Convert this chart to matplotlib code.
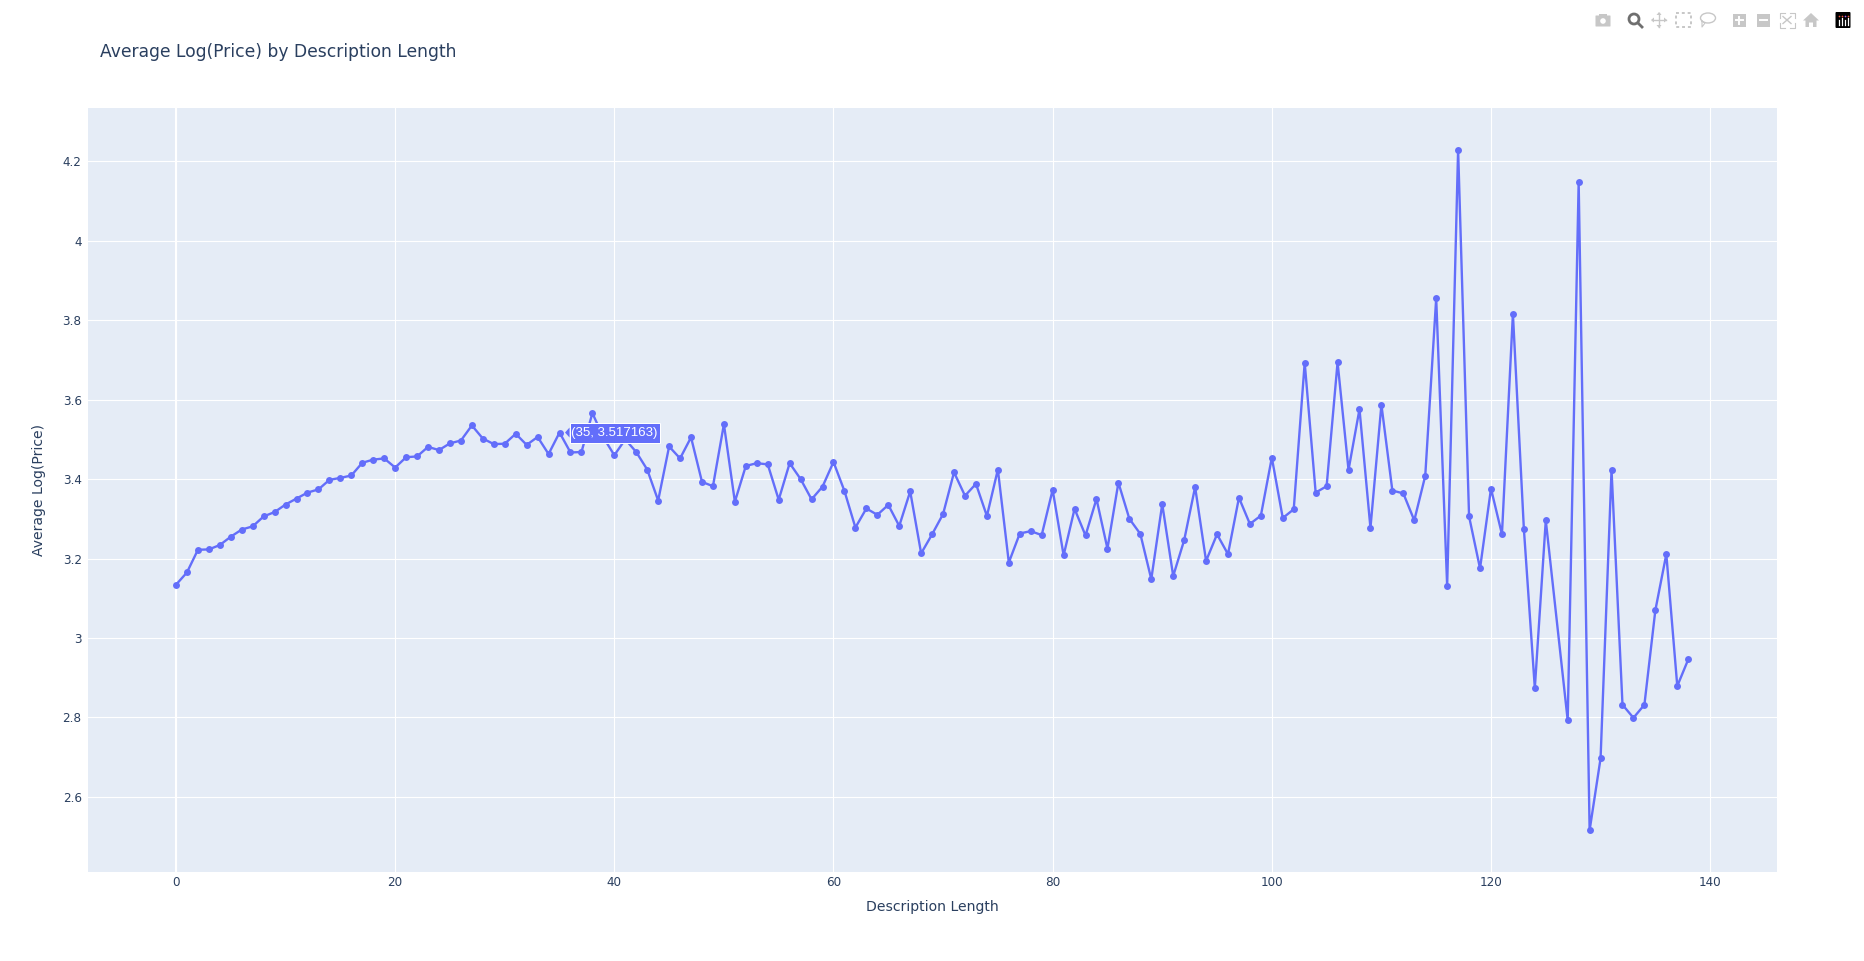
import matplotlib
matplotlib.use("Agg")
import matplotlib.pyplot as plt
from matplotlib.patches import Circle, Ellipse, FancyBboxPatch, Polygon, Rectangle

# average log(price) per description length (126 has no data point)
lengths = list(range(0, 126)) + list(range(127, 139))
avg_log_price = [
    3.134, 3.165, 3.222, 3.223, 3.234, 3.255, 3.273, 3.281, 3.306, 3.317,
    3.336, 3.351, 3.366, 3.374, 3.398, 3.403, 3.409, 3.441, 3.449, 3.452,
    3.429, 3.455, 3.457, 3.481, 3.473, 3.490, 3.497, 3.535, 3.502, 3.488,
    3.489, 3.514, 3.486, 3.506, 3.463, 3.517163, 3.467, 3.468, 3.566, 3.505,
    3.460, 3.500, 3.468, 3.424, 3.346, 3.482, 3.452, 3.505, 3.393, 3.382,
    3.538, 3.343, 3.433, 3.440, 3.437, 3.348, 3.440, 3.400, 3.349, 3.381,
    3.443, 3.370, 3.278, 3.326, 3.310, 3.335, 3.282, 3.369, 3.213, 3.261,
    3.312, 3.417, 3.358, 3.388, 3.307, 3.424, 3.190, 3.263, 3.269, 3.259,
    3.373, 3.208, 3.325, 3.258, 3.350, 3.225, 3.391, 3.300, 3.262, 3.148,
    3.337, 3.156, 3.246, 3.380, 3.194, 3.261, 3.211, 3.353, 3.287, 3.308,
    3.454, 3.302, 3.324, 3.693, 3.366, 3.382, 3.694, 3.423, 3.576, 3.277,
    3.587, 3.371, 3.364, 3.296, 3.408, 3.855, 3.131, 4.229, 3.306, 3.175,
    3.376, 3.261, 3.816, 3.275, 2.874, 3.296, 2.793, 4.147, 2.516, 2.697,
    3.423, 2.832, 2.799, 2.832, 3.070, 3.211, 2.879, 2.946,
]
x_ticks = [0, 20, 40, 60, 80, 100, 120, 140]
y_ticks = [2.6, 2.8, 3.0, 3.2, 3.4, 3.6, 3.8, 4.0, 4.2]
y_tick_labels = ["2.6", "2.8", "3", "3.2", "3.4", "3.6", "3.8", "4", "4.2"]
hover_x = 35
hover_y = 3.517163

W, H = 1865, 961
LINE = "#636efa"
TEXT = "#2a3f5f"
BG = "#e5ecf6"
ICON = "#c7c7c7"

plt.rcParams["font.family"] = "DejaVu Sans"

fig = plt.figure(figsize=(W / 100, H / 100), dpi=100, facecolor="white")
ax = fig.add_axes([88 / W, 1 - 872 / H, (1777 - 88) / W, (872 - 108) / H], facecolor=BG)

ax.plot(lengths, avg_log_price, color=LINE, lw=1.7, marker="o", ms=5, mew=0, zorder=3)
ax.set_xlim(-8.03, 146.1)
ax.set_ylim(2.411, 4.334)

ax.set_xticks(x_ticks)
ax.set_yticks(y_ticks)
ax.set_yticklabels(y_tick_labels)
ax.tick_params(length=0, labelsize=8.64, labelcolor=TEXT)
ax.tick_params(axis="x", pad=3)
ax.tick_params(axis="y", pad=4.5)
ax.grid(True, color="white", lw=0.8)
ax.axvline(0, color="white", lw=1.5, zorder=1)
ax.set_axisbelow(True)
for s in ax.spines.values():
    s.set_visible(False)

fig.text(100.5 / W, 1 - 52 / H, "Average Log(Price) by Description Length",
         fontsize=12.36, color=TEXT, ha="left", va="center")
fig.text(932.5 / W, 1 - 907.5 / H, "Description Length",
         fontsize=10.08, color=TEXT, ha="center", va="center")
fig.text(39 / W, 1 - 490 / H, "Average Log(Price)", rotation=90,
         fontsize=10.08, color=TEXT, ha="center", va="center")

# overlay in image pixels, for the hover label and the modebar
ov = fig.add_axes([0, 0, 1, 1], facecolor="none")
ov.set_xlim(0, W)
ov.set_ylim(H, 0)
ov.axis("off")

# hover label
px, py = ax.transData.transform((hover_x, hover_y))
py = H - py
ov.add_patch(Polygon([(px + 5.5, py), (px + 10, py - 5), (px + 10, py + 5)], fc=LINE, ec="none", zorder=5))
ov.add_patch(Rectangle((px + 10, py - 10), 90.5, 20, fc=LINE, ec="white", lw=0.72, zorder=5))
ov.text(px + 55, py + 0.3, f"({hover_x}, {hover_y:.6f})", color="white", fontsize=9.5,
        family="Liberation Sans", ha="center", va="center", zorder=6)

# modebar icons
# camera
ov.add_patch(FancyBboxPatch((1596, 16), 14, 10, boxstyle="round,pad=0.5", fc=ICON, ec="none"))
ov.add_patch(Rectangle((1599, 13.5), 8, 3, fc=ICON, ec="none"))
ov.add_patch(Circle((1603, 21), 2.8, fc="white", ec="none"))
# zoom (active)
ov.add_patch(Circle((1634, 19), 5, fc="none", ec="#6f6f6f", lw=2))
ov.plot([1638, 1642], [23, 27], color="#6f6f6f", lw=2)
# pan
ov.plot([1652, 1666], [20, 20], color=ICON, lw=1)
ov.plot([1659, 1659], [13, 27], color=ICON, lw=1)
for tri in ([(1651, 20), (1654, 17.5), (1654, 22.5)], [(1667, 20), (1664, 17.5), (1664, 22.5)],
            [(1659, 12), (1656.5, 15), (1661.5, 15)], [(1659, 28), (1656.5, 25), (1661.5, 25)]):
    ov.add_patch(Polygon(tri, fc=ICON, ec="none"))
# box select
ov.add_patch(Rectangle((1676, 12.5), 14.5, 14.5, fc="none", ec=ICON, lw=1.4, ls=(0, (1.5, 1.5))))
# lasso
ov.add_patch(Ellipse((1708, 18), 15, 10, fc="none", ec=ICON, lw=1))
ov.plot([1702, 1702, 1705, 1702], [21, 27, 23, 21], color=ICON, lw=0.8)
# zoom in, zoom out
for x0, sign in ((1732.5, True), (1756.5, False)):
    ov.add_patch(Rectangle((x0, 13.5), 13.5, 13.5, fc=ICON, ec="none"))
    ov.plot([x0 + 3, x0 + 10.5], [20.2, 20.2], color="white", lw=1.4)
    if sign:
        ov.plot([x0 + 6.75, x0 + 6.75], [16.5, 24], color="white", lw=1.4)
# autoscale
for cx, sx in ((1779.5, 1), (1794.5, -1)):
    for cy, sy in ((12.5, 1), (27.5, -1)):
        ov.plot([cx + 5 * sx, cx, cx], [cy, cy, cy + 5 * sy], color=ICON, lw=0.8)
ov.plot([1783, 1791], [16.5, 23.5], color=ICON, lw=1)
ov.plot([1783, 1791], [23.5, 16.5], color=ICON, lw=1)
# home
ov.add_patch(Polygon([(1811, 13), (1819, 20.5), (1816.5, 20.5), (1816.5, 27), (1813, 27), (1813, 22.5),
                      (1809, 22.5), (1809, 27), (1805.5, 27), (1805.5, 20.5), (1803, 20.5)], fc=ICON, ec="none"))
# plotly logo
ov.add_patch(FancyBboxPatch((1836.5, 13), 13, 14, boxstyle="round,pad=1", fc="black", ec="none"))
for bx, top in ((1839, 20), (1842, 18), (1845, 20), (1848, 18)):
    ov.plot([bx, bx], [top, 25], color="white", lw=0.9)
for bx, col in ((1839, "#ef553b"), (1842, "#ef553b"), (1845, "#ab63fa"), (1848, "#ef553b")):
    ov.plot([bx], [15.5], marker="o", ms=1.2, mew=0, color=col)

fig.savefig("out.png", dpi=100, facecolor="white")
